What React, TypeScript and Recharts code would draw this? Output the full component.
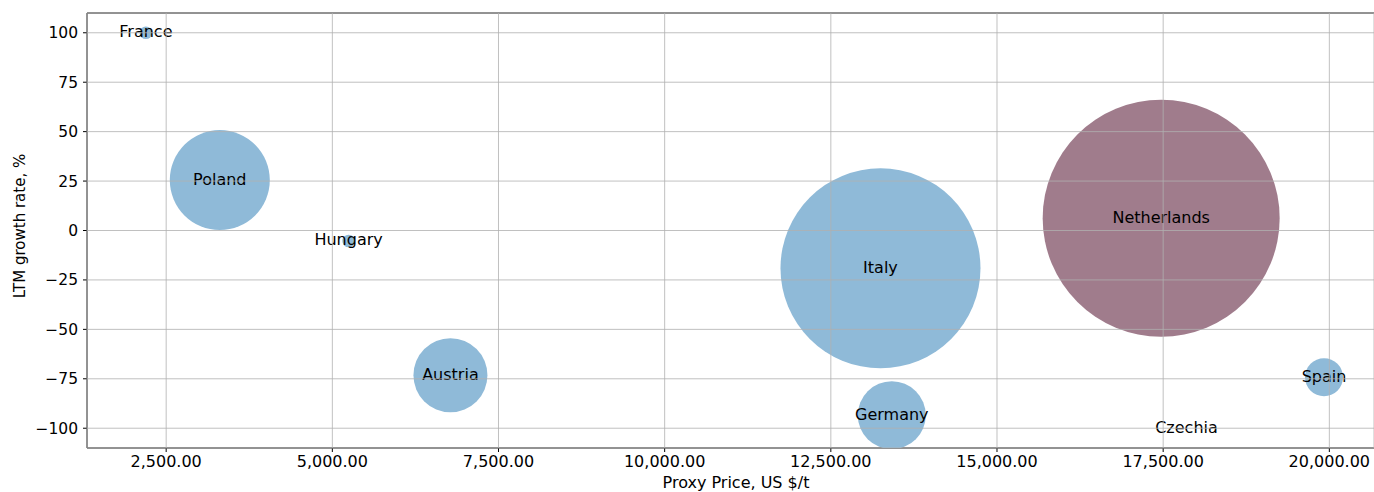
import React from 'react';
import {
  CartesianGrid,
  Label,
  ReferenceLine,
  Scatter,
  ScatterChart,
  XAxis,
  YAxis,
  ZAxis,
} from 'recharts';

/** Proxy price vs LTM growth, bubble size = import volume. */

const countries = ['France', 'Poland', 'Hungary', 'Austria', 'Italy', 'Netherlands', 'Spain', 'Germany', 'Czechia'];
const proxyPrice = [2195, 3307, 5245, 6777, 13247, 17470, 19920, 13417, 17851];
const growthRate = [100, 25.5, -5.3, -73.2, -19.1, 6.2, -74.2, -93.4, -100];
const volume = [40, 2500, 40, 1369, 10000, 14042, 361, 1156, 0];

const xTicks = [2500, 5000, 7500, 10000, 12500, 15000, 17500, 20000];
const yTicks = [-100, -75, -50, -25, 0, 25, 50, 75, 100];

const HIGHLIGHT = 'Netherlands';
const BLUE = '#8fbad8';
const MAUVE = '#a07c8c';
const FONT = '"DejaVu Sans", sans-serif';
const MAX_R = 118.5;

const data = countries.map((name, i) => ({
  name,
  x: proxyPrice[i],
  y: growthRate[i],
  z: volume[i],
}));

const fmtPrice = (v: number) =>
  v.toLocaleString('en-US', { minimumFractionDigits: 2, maximumFractionDigits: 2 });
const fmtGrowth = (v: number) => (v < 0 ? `\u2212${Math.abs(v)}` : `${v}`);

const Bubble = (props: any) => {
  const { cx, cy, size, payload } = props;
  const r = Math.sqrt((size || 0) / Math.PI);
  return (
    <g>
      {r > 0 && <circle cx={cx} cy={cy} r={r} fill={payload.name === HIGHLIGHT ? MAUVE : BLUE} />}
      <text
        x={cx}
        y={cy - 1}
        textAnchor="middle"
        dominantBaseline="central"
        fontFamily={FONT}
        fontSize={16}
        fill="#000"
      >
        {payload.name}
      </text>
    </g>
  );
};

export default function App() {
  return (
    <div style={{ position: 'fixed', left: 0, top: 0, background: '#fff' }}>
      <ScatterChart width={1374} height={492} margin={{ top: 13, right: 0, left: 0, bottom: 0 }}>
        <XAxis
          type="number"
          dataKey="x"
          domain={[1309, 20672]}
          ticks={xTicks}
          tickFormatter={fmtPrice}
          allowDataOverflow
          height={44}
          tickSize={4}
          tickMargin={4}
          tick={{ fontSize: 16, fill: '#000', fontFamily: FONT }}
          stroke="#000"
          axisLine={{ stroke: '#000' }}
          tickLine={{ stroke: '#000' }}
        >
          <Label
            content={() => (
              <text x={736} y={488} textAnchor="middle" fontFamily={FONT} fontSize={16} fill="#000">
                Proxy Price, US $/t
              </text>
            )}
          />
        </XAxis>
        <YAxis
          type="number"
          dataKey="y"
          domain={[-110, 110]}
          ticks={yTicks}
          tickFormatter={fmtGrowth}
          allowDataOverflow
          width={87}
          tickSize={4}
          tickMargin={5}
          tick={{ fontSize: 15.5, fill: '#000', fontFamily: FONT }}
          stroke="#000"
          axisLine={{ stroke: '#000' }}
          tickLine={{ stroke: '#000' }}
        >
          <Label
            content={() => (
              <text
                transform="translate(20,226) rotate(-90)"
                textAnchor="middle"
                dominantBaseline="central"
                fontFamily={FONT}
                fontSize={15}
                fill="#000"
              >
                LTM growth rate, %
              </text>
            )}
          />
        </YAxis>
        <ZAxis type="number" dataKey="z" domain={[0, 14042]} range={[0, Math.PI * MAX_R * MAX_R]} />
        <Scatter data={data} shape={Bubble} isAnimationActive={false} />
        <CartesianGrid stroke="#b0b0b0" strokeWidth={0.8} {...({ zIndex: 1000 } as any)} />
        <ReferenceLine y={110} stroke="#000" strokeWidth={1} />
      </ScatterChart>
    </div>
  );
}
